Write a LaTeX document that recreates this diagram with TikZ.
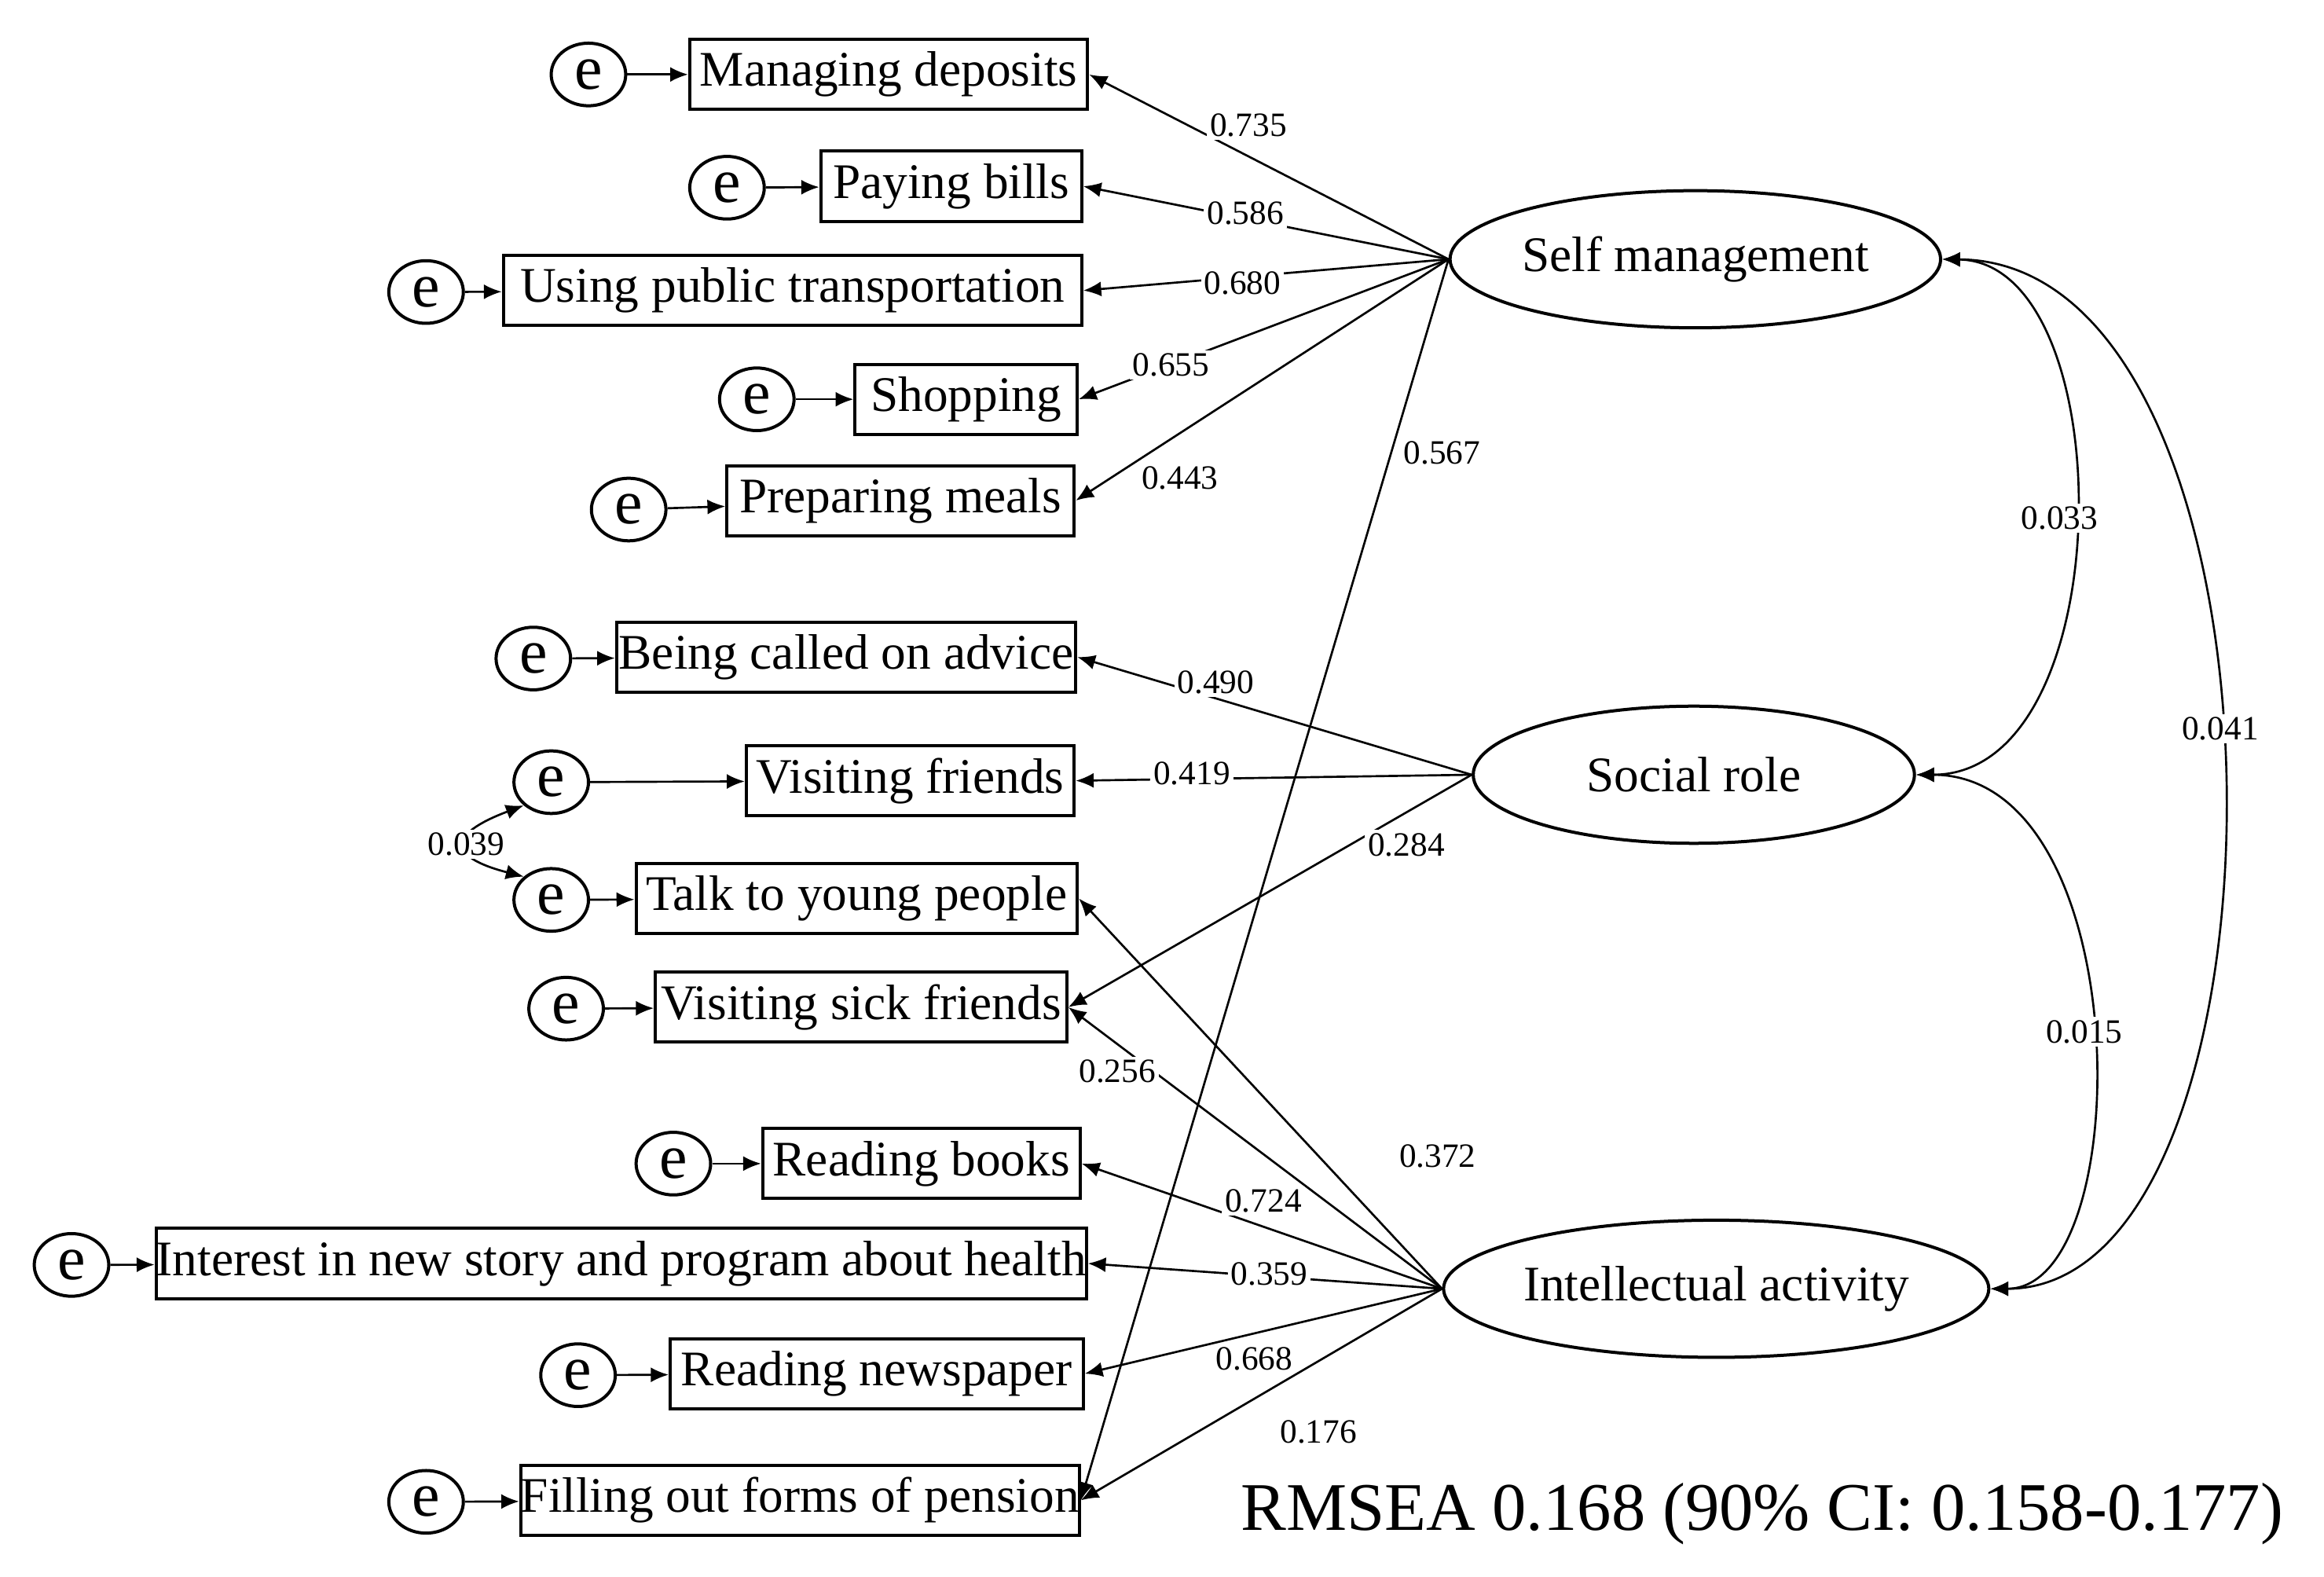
\documentclass[tikz,border=0pt]{standalone}
\usepackage{fontspec}
\setmainfont{Liberation Serif}
\usetikzlibrary{arrows.meta,shapes.geometric}
\begin{document}
\begin{tikzpicture}[x=0.01cm,y=-0.01cm,
 box/.style={draw,line width=0.6pt,minimum height=0.47cm,inner sep=0pt,font=\fontsize{9.5}{10}\selectfont},
 err/.style={draw,ellipse,line width=0.6pt,minimum width=0.5cm,minimum height=0.42cm,inner sep=0pt,font=\fontsize{12}{12}\selectfont},
 lat/.style={draw,ellipse,line width=0.6pt,minimum width=2.96cm,minimum height=0.92cm,inner sep=0pt,font=\fontsize{9.5}{10}\selectfont},
 lab/.style={fill=white,inner sep=0.6pt,font=\fontsize{6.5}{7}\selectfont},
 arr/.style={-{Latex[length=1.2mm,width=1mm]},line width=0.4pt},
 darr/.style={{Latex[length=1.2mm,width=1mm]}-{Latex[length=1.2mm,width=1mm]},line width=0.4pt}]
\useasboundingbox (0,0) rectangle (1560,1058);
\node[box,minimum width=2.67cm] (b1) at (596.5,50) {Managing deposits};
\node[box,minimum width=1.75cm] (b2) at (638.5,125) {Paying bills};
\node[box,minimum width=3.88cm] (b3) at (532,195) {Using public transportation};
\node[box,minimum width=1.49cm] (b4) at (648.5,268) {Shopping};
\node[box,minimum width=2.33cm] (b5) at (604.5,336) {Preparing meals};
\node[box,minimum width=3.08cm] (b6) at (568,441) {Being called on advice};
\node[box,minimum width=2.20cm] (b7) at (611,524) {Visiting friends};
\node[box,minimum width=2.96cm] (b8) at (575,603) {Talk to young people};
\node[box,minimum width=2.76cm] (b9) at (578,676) {Visiting sick friends};
\node[box,minimum width=2.13cm] (b10) at (618.5,781) {Reading books};
\node[box,minimum width=6.18cm] (b11) at (417,848) {Interest in new story and program about health};
\node[box,minimum width=2.77cm] (b12) at (588.5,922) {Reading newspaper};
\node[box,minimum width=3.74cm] (b13) at (537,1007) {Filling out forms of pension};
\foreach \i/\x/\y in {1/395/50,2/488/126,3/286/196,4/508/268,5/422/342,6/358/442,7/370/525,8/370/604,9/380/677,10/452/781,11/48/849,12/388/923,13/286/1008}{
 \node[err] (e\i) at (\x,\y) {e};
 \draw[arr] (e\i) -- (b\i);
}
\node[lat] (SM) at (1138,174) {Self management};
\node[lat] (SR) at (1137,520) {Social role};
\node[lat] (IA) at (1152,865) {Intellectual activity};
\foreach \b in {1,2,3,4,5,13} \draw[arr] (SM.west) -- (b\b.east);
\foreach \b in {6,7,9} \draw[arr] (SR.west) -- (b\b.east);
\foreach \b in {8,9,10,11,12,13} \draw[arr] (IA.west) -- (b\b.east);
\node[lab] at (838,84) {0.735};
\node[lab] at (836,143) {0.586};
\node[lab] at (834,190) {0.680};
\node[lab] at (786,245) {0.655};
\node[lab] at (792,321) {0.443};
\node[lab] at (968,304) {0.567};
\node[lab] at (816,458) {0.490};
\node[lab] at (800,519) {0.419};
\node[lab] at (944,567) {0.284};
\node[lab] at (965,776) {0.372};
\node[lab] at (750,719) {0.256};
\node[lab] at (848,806) {0.724};
\node[lab] at (852,855) {0.359};
\node[lab] at (842,912) {0.668};
\node[lab] at (885,961) {0.176};
\draw[darr] (SM.east) .. controls (1425,176) and (1425,520) .. (SR.east) node[lab,pos=0.5,xshift=-0.1cm] {0.033};
\draw[darr] (SR.east) .. controls (1435,520) and (1435,865) .. (IA.east) node[lab,pos=0.5,xshift=-0.05cm] {0.015};
\draw[darr] (SM.east) .. controls (1549,176) and (1549,865) .. (IA.east) node[lab,pos=0.47] {0.041};
\draw[darr] (e7.south west) .. controls (300,560) and (300,575) .. (e8.north west) node[lab,pos=0.5] {0.039};
\node[font=\fontsize{13}{14}\selectfont,anchor=east] at (1545,1016) {RMSEA 0.168 (90\% CI: 0.158-0.177)};
\end{tikzpicture}
\end{document}
